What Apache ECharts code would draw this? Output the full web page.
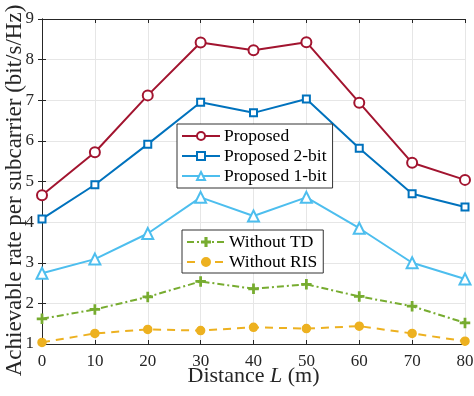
<!DOCTYPE html>
<html>
<head>
<meta charset="utf-8">
<script src="https://cdn.jsdelivr.net/npm/echarts@6/dist/echarts.min.js"></script>
<style>
  html, body { margin: 0; padding: 0; background: #fff; }
  #chart { width: 474px; height: 396px; }
</style>
</head>
<body>
<div id="chart"></div>
<script>
const distances = [0, 10, 20, 30, 40, 50, 60, 70, 80];

const proposed = [4.66, 5.72, 7.12, 8.42, 8.23, 8.43, 6.94, 5.46, 5.04];
const proposed2bit = [4.08, 4.92, 5.92, 6.95, 6.69, 7.03, 5.82, 4.70, 4.37];
const proposed1bit = [2.74, 3.09, 3.72, 4.61, 4.15, 4.61, 3.85, 3.00, 2.60];
const withoutTd = [1.62, 1.85, 2.16, 2.54, 2.36, 2.47, 2.17, 1.93, 1.52];
const withoutRis = [1.04, 1.26, 1.36, 1.33, 1.41, 1.38, 1.44, 1.26, 1.07];

const SERIF = "Liberation Serif";
const PLUS = "path://M4.3,0H5.7V4.3H10V5.7H5.7V10H4.3V5.7H0V4.3H4.3Z";


function lineSeries(name, values, color, symbol, symbolSize, lineType) {
  return {
    name,
    type: "line",
    data: distances.map((d, i) => [d, values[i]]),
    symbol,
    symbolSize,
    showAllSymbol: true,
    itemStyle: {
      color,
      borderColor: color,
      borderWidth: 1.5,
    },
    lineStyle: {
      color,
      width: 2,
      type: lineType,
    },
    emphasis: { disabled: true },
    z: 3,
  };
}


function legendBox(names, left, top, padding) {
  return {
    data: names,
    orient: "vertical",
    left,
    top,
    itemWidth: 38,
    itemHeight: 10,
    itemGap: 2,
    padding,
    backgroundColor: "#fff",
    borderColor: "#333",
    borderWidth: 1,
    borderRadius: 0,
    selectedMode: false,
    textStyle: {
      fontFamily: SERIF,
      fontSize: 17.5,
      lineHeight: 18,
      color: "#000",
      padding: [0, 0, 0, -1],
    },
  };
}


const chart = echarts.init(document.getElementById("chart"));

const axisLine = { show: true, lineStyle: { color: "#262626", width: 1 } };
const innerTick = { show: true, inside: true, length: 4, lineStyle: { color: "#262626" } };

chart.setOption({
  animation: false,
  grid: {
    left: 42,
    right: 9,
    top: 19,
    bottom: 52,
    containLabel: false,
    outerBoundsMode: "none",
  },
  legend: [
    legendBox(
      ["Proposed", "Proposed 2-bit", "Proposed 1-bit"],
      177,
      124,
      [3, 6, 3, 4],
    ),
    legendBox(
      ["Without TD", "Without RIS"],
      182,
      230,
      [3, 6, 2, 4],
    ),
  ],
  xAxis: [
    {
      type: "value",
      min: 0,
      max: 80,
      interval: 10,
      axisLine,
      axisTick: innerTick,
      splitLine: { show: true, lineStyle: { color: "#e6e6e6" } },
      axisLabel: {
        fontFamily: SERIF,
        fontSize: 17,
        color: "#262626",
        margin: 9,
      },
      name: "{a|Distance }{i|L}{a| (m)}",
      nameLocation: "middle",
      nameMoveOverlap: false,
      nameGap: 21,
      nameTextStyle: {
        rich: {
          a: { fontFamily: SERIF, fontSize: 22, color: "#262626" },
          i: { fontFamily: SERIF, fontSize: 22, fontStyle: "italic", color: "#262626" },
        },
      },
    },
    {
      type: "value",
      position: "top",
      min: 0,
      max: 80,
      interval: 10,
      axisLine,
      axisTick: innerTick,
      axisLabel: { show: false },
      splitLine: { show: false },
    },
  ],
  yAxis: [
    {
      type: "value",
      min: 1,
      max: 9,
      interval: 1,
      axisLine,
      axisTick: innerTick,
      splitLine: { show: true, lineStyle: { color: "#e6e6e6" } },
      axisLabel: {
        fontFamily: SERIF,
        fontSize: 17,
        color: "#262626",
        margin: 8,
      },
      name: "Achievable rate per subcarrier (bit/s/Hz)",
      nameLocation: "middle",
      nameMoveOverlap: false,
      nameGap: 16,
      nameTextStyle: {
        fontFamily: SERIF,
        fontSize: 23,
        color: "#262626",
        padding: [0, 18, 0, 0],
      },
    },
    {
      type: "value",
      position: "right",
      min: 1,
      max: 9,
      interval: 1,
      axisLine,
      axisTick: innerTick,
      axisLabel: { show: false },
      splitLine: { show: false },
    },
  ],
  series: [
    lineSeries("Proposed", proposed, "#A2142F", "emptyCircle", 10, "solid"),
    lineSeries("Proposed 2-bit", proposed2bit, "#0072BD", "emptyRect", 7, "solid"),
    lineSeries("Proposed 1-bit", proposed1bit, "#4DBEEE", "emptyTriangle", 11, "solid"),
    lineSeries("Without TD", withoutTd, "#77AC30", PLUS, 9, [7, 3, 2, 3]),
    lineSeries("Without RIS", withoutRis, "#EDB120", "circle", 8, [8, 6]),
  ],
});
</script>
</body>
</html>
